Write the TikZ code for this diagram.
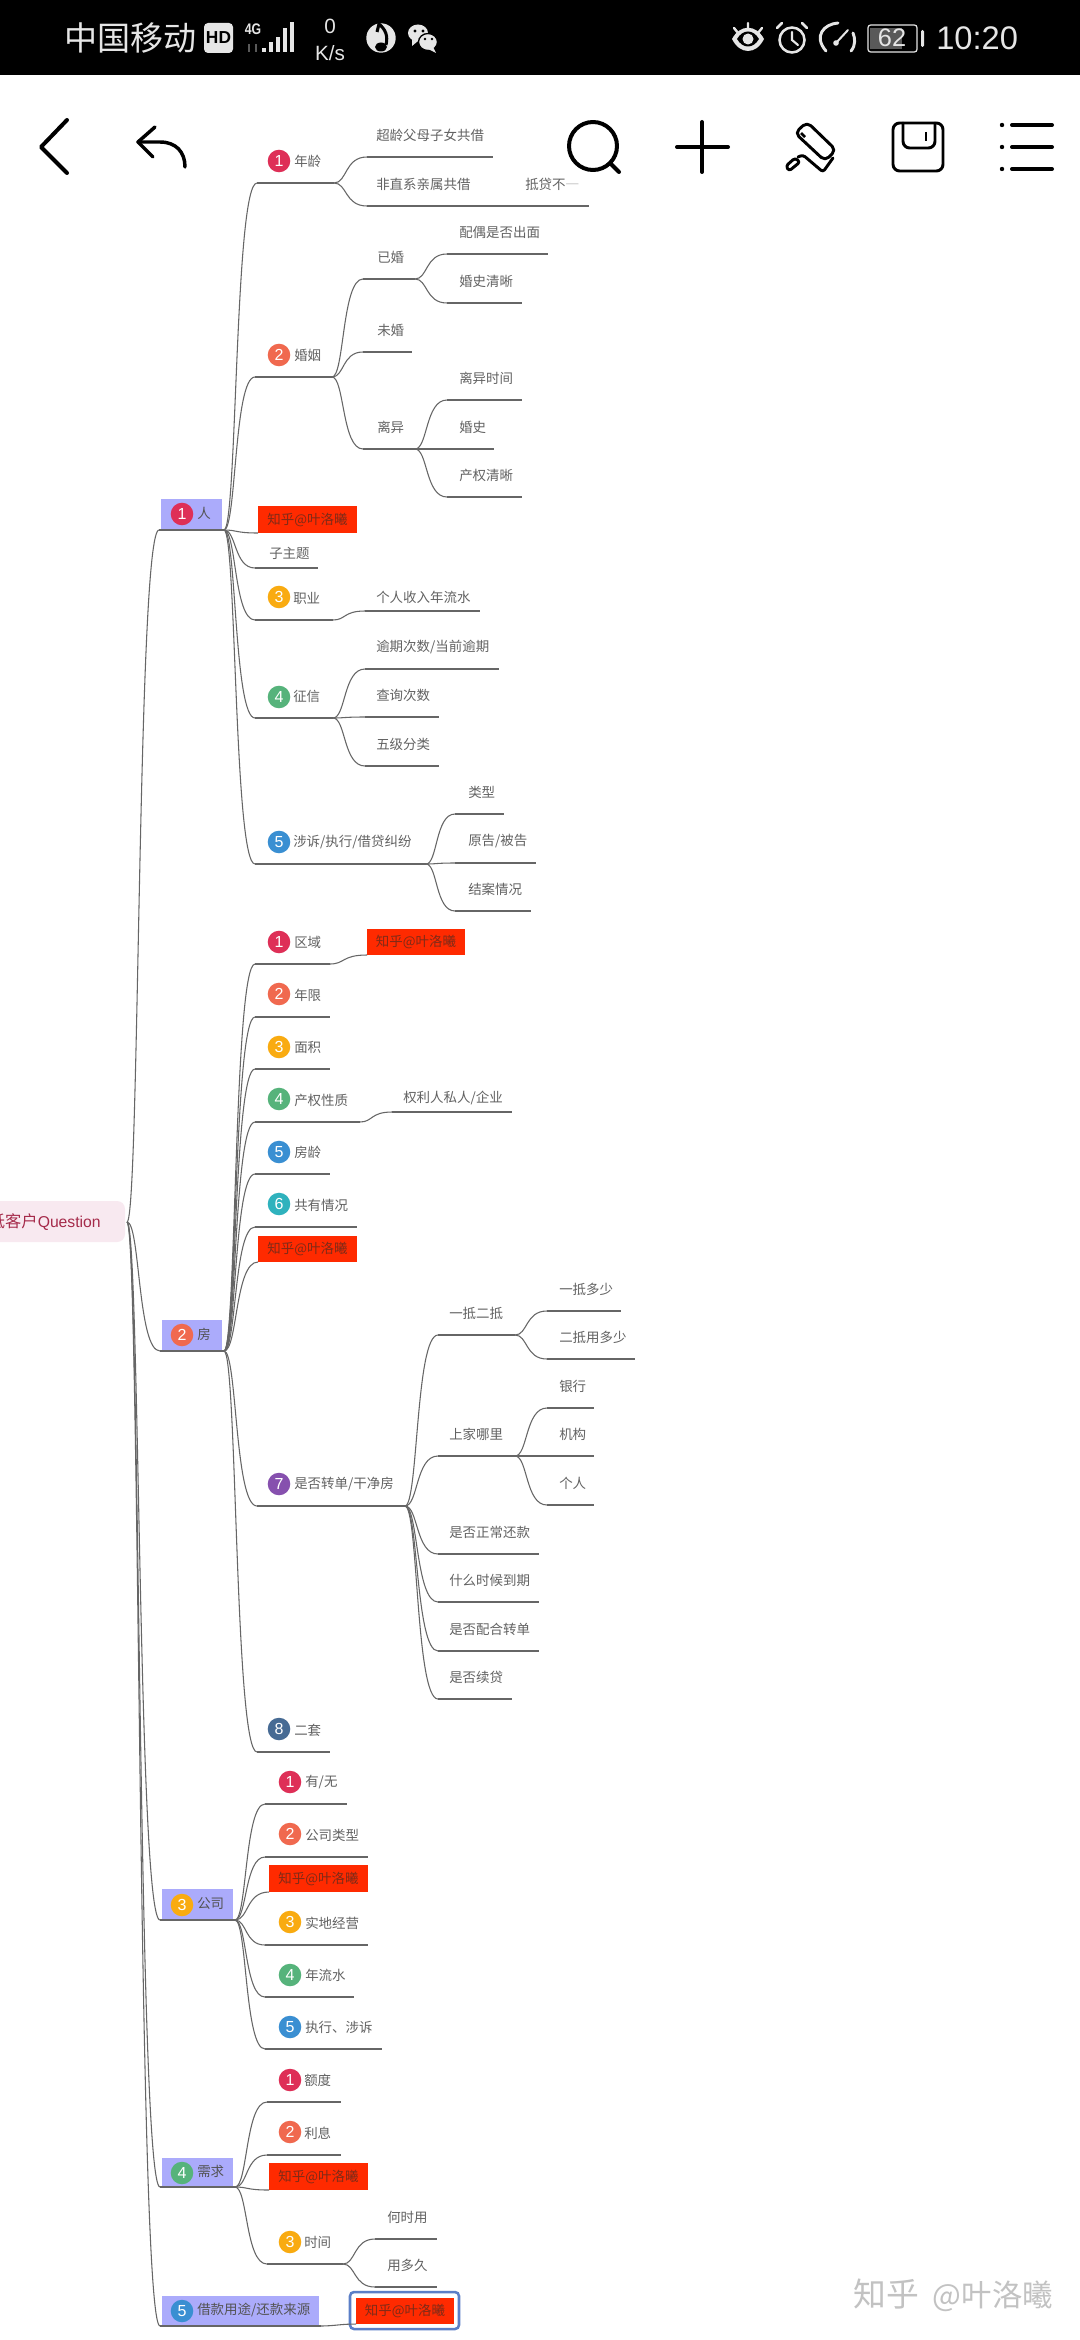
\documentclass[tikz,border=0pt]{standalone}
\usepackage{fontspec}
\usetikzlibrary{calc}
\setmainfont{Noto Sans CJK SC}
\newfontfamily\latinfont{Liberation Sans}
\definecolor{linecol}{HTML}{666666}
\definecolor{txtcol}{HTML}{626262}
\definecolor{boxcol}{HTML}{ABABFB}
\definecolor{redcol}{HTML}{FF2A00}
\definecolor{redtxt}{HTML}{7E2A18}
\definecolor{rootcol}{HTML}{F8E9F0}
\definecolor{roottxt}{HTML}{A52A4A}
\definecolor{ba}{HTML}{DE2F57}
\definecolor{bb}{HTML}{F0694F}
\definecolor{bc}{HTML}{F9AB11}
\definecolor{bd}{HTML}{56B37B}
\definecolor{be}{HTML}{3A8FD2}
\definecolor{bf}{HTML}{2FB2BD}
\definecolor{bg}{HTML}{8650AE}
\definecolor{bh}{HTML}{476B94}
\definecolor{stat}{HTML}{E6E6E6}
\tikzset{
  lbl/.style={anchor=west,inner sep=0pt,text=txtcol,font=\fontsize{10.1pt}{12pt}\selectfont},
  underline/.style={draw=linecol,line width=.85pt},
  branch/.style={draw=linecol,line width=.8pt},
  badgenode/.style={circle,inner sep=0pt,minimum size=16.9pt,text=white,font=\latinfont\fontsize{12pt}{14pt}\selectfont},
  redbox/.style={fill=redcol,draw=none,inner sep=0pt,text=redtxt,font=\fontsize{10.1pt}{12pt}\selectfont},
  tool/.style={draw=black,line width=3pt,line cap=round,line join=round},
  tooltwo/.style={draw=black,line width=2.2pt,line cap=round,line join=round},
  statline/.style={draw=stat,line width=1.8pt,line cap=round},
  stattxt/.style={text=stat,inner sep=0pt}
}
% name, x0, x1, line y, text x, text
\newcommand\topic[6]{%
  \coordinate (#1-l) at (#2,#4);
  \coordinate (#1-r) at (#3,#4);
  \draw[underline] (#1-l) -- (#1-r);
  \node[lbl] (#1) at ({#5},{#4-22}) {#6};
}
% name, x0, x1, line y, text x, text y, text
\newcommand\topicat[7]{%
  \coordinate (#1-l) at (#2,#4);
  \coordinate (#1-r) at (#3,#4);
  \draw[underline] (#1-l) -- (#1-r);
  \node[lbl] (#1) at (#5,#6) {#7};
}
% name, x, y, colour, digit
\newcommand\bdg[5]{\node[badgenode,fill=#4] (#1) at (#2,#3) {#5};}
% name, x0, x1, y0, y1, text x, text
\newcommand\maintopic[7]{%
  \path[fill=boxcol] (#2,#4) rectangle (#3,#5);
  \coordinate (#1-l) at ({#2-2},#5);
  \coordinate (#1-r) at ({#3+2},#5);
  \draw[underline] (#1-l) -- (#1-r);
  \node[lbl,text=txtcol!85!black] (#1) at ({#6},{(#4+#5)/2-1}) {#7};
}
% name, x0, x1, y0, y1
\newcommand\redtopic[5]{%
  \node[redbox,minimum width={(#3-#2)*.75pt},minimum height={(#5-#4)*.75pt}] (#1) at ({(#2+#3)/2},{(#4+#5)/2}) {知乎@叶洛曦};
  \coordinate (#1-l) at (#2,#5);
}
\newcommand\conn[2]{%
  \draw[branch] let \p1=(#1-r),\p2=(#2-l) in (\p1) .. controls ({\x1+.4*(\x2-\x1)},\y1) and ({\x1+.32*(\x2-\x1)},\y2) .. (\p2);
}
\begin{document}
\begin{tikzpicture}[x=.75pt,y=-.75pt]
\useasboundingbox (0,0) rectangle (1080,2340);
\fill[white] (0,0) rectangle (1080,2340);
% ---------- status bar
\fill[black] (0,0) rectangle (1080,75);
\node[stattxt,anchor=west,font=\fontsize{24.8pt}{28pt}\selectfont] (carrier) at (64,38) {中国移动};
\fill[stat,rounded corners=3pt] (204,23) rectangle (233,53);
\node[inner sep=0pt,text=black,font=\latinfont\bfseries\fontsize{13pt}{14pt}\selectfont] (hd) at (218.5,38) {HD};
\node[stattxt,font=\latinfont\bfseries\fontsize{11.5pt}{12pt}\selectfont,xscale=.8] (fourg) at (253,29) {4G};
\draw[draw=stat,line width=2.6pt] (264,52)--(264,48) (271,52)--(271,42) (278,52)--(278,37) (285,52)--(285,28) (292,52)--(292,22);
\draw[draw=gray!70!black,line width=1.6pt] (249,52)--(249,44) (256,52)--(256,44);
\node[stattxt,font=\latinfont\fontsize{15.5pt}{18pt}\selectfont] (speedzero) at (330,26) {0};
\node[stattxt,font=\latinfont\fontsize{15.5pt}{18pt}\selectfont] (speedunit) at (330,53) {K/s};
\fill[stat] (381,38) circle (14.7);
\fill[black] (381,47) ellipse (6 and 4.5);
\draw[black,line width=2.3pt] (386,45) .. controls (388,36) and (386,30) .. (379,24) -- (377,32);
\fill[stat] (418,33) ellipse (10 and 8.5);
\fill[stat] (412,40) -- (412,46) -- (418,41) -- cycle;
\draw[black,line width=1pt,fill=stat] (428,42) ellipse (9.5 and 8.5);
\fill[stat] (433,47) -- (436,53) -- (428,49) -- cycle;
\fill[black] (415,31) circle (1.6) (423,31) circle (1.6) (425,39) circle (1.3) (432,39) circle (1.3);
% right
\fill[stat] (732,39) .. controls (740,24) and (756,24) .. (764,39) .. controls (756,55) and (740,55) .. (732,39) -- cycle;
\fill[black] (737,39) .. controls (743,29) and (753,29) .. (759,39) .. controls (753,49) and (743,49) .. (737,39) -- cycle;
\fill[stat] (748,39) circle (5.5);
\draw[statline] (748,23)--(748,29) (734,28)--(738,33) (762,28)--(758,33);
\draw[statline,line width=1.9pt] (792,40) circle (12.5);
\draw[statline,line width=1.6pt] (792,32)--(792,40)--(798,45);
\draw[statline,line width=2pt] (777,28)--(782,23) (807,28)--(802,23);
\draw[statline,line width=2.2pt] (826,51) .. controls (813,36) and (824,24) .. (838,23);
\draw[statline,line width=2.2pt] (851,51) .. controls (856,45) and (855,38) .. (853,33);
\draw[statline,line width=1.5pt] (836,43)--(848,30);
\fill[stat] (836,43) circle (2.8);
\draw[stat,line width=.9pt,rounded corners=2pt] (868,25) rectangle (917,52);
\fill[gray!70!black] (870,28) rectangle (902,49);
\node[stattxt,font=\latinfont\fontsize{19pt}{20pt}\selectfont] (batt) at (892,38) {62};
\fill[stat,rounded corners=1pt] (921,30) rectangle (924,47);
\node[stattxt,anchor=west,font=\latinfont\fontsize{24.5pt}{28pt}\selectfont] (clock) at (936,38) {10:20};
% ---------- toolbar
\draw[tool] (67,120) -- (41,147) -- (67,173);
\draw[tool,line width=2.6pt] (155,127) -- (138,142) -- (153,157);
\draw[tool,line width=2.6pt] (138,142) -- (160,142) .. controls (176,142) and (185,152) .. (185,167);
\draw[tool] (593,146) circle (24);
\draw[tool] (610,163) -- (619,172);
\draw[tool] (677,147) -- (728,147) (702,122) -- (702,172);
\draw[tooltwo,rounded corners=4pt] (807,122) -- (836,150) -- (825,161) -- (795,133) -- cycle;
\draw[black,line width=2pt] (801,133) -- (805,137);
\draw[tooltwo,rounded corners=2pt] (833,158) -- (823,172) -- (803,155) -- (798,157);
\draw[tooltwo,rounded corners=2pt] (795,158) -- (786,166) -- (789,171) -- (800,162) -- cycle;
\draw[tooltwo,rounded corners=5pt] (893,123) rectangle (943,171);
\draw[tooltwo,rounded corners=5pt] (903,123) -- (903,148) -- (935,148) -- (935,123);
\draw[black,line width=2pt] (926,132) -- (926,141);
\draw[tool] (1012,125) -- (1052,125) (1012,147) -- (1052,147) (1012,169) -- (1052,169);
\fill[black] (1002,125) circle (2.2) (1002,147) circle (2.2) (1002,169) circle (2.2);
% ---------- root
\node[fill=rootcol,rounded corners=6pt,minimum width=145*.75pt,minimum height=41*.75pt,inner sep=0pt] (rootbg) at (52.5,1221.5) {};
\node[anchor=east,inner sep=0pt,text=roottxt,font=\fontsize{12.2pt}{14pt}\selectfont] (root) at (101,1222) {抵客户{\latinfont\fontsize{11.8pt}{14pt}\selectfont Question}};
\coordinate (root-r) at (127,1222);
% ---------- main topics
\maintopic{ren}{161}{222}{499}{530}{197}{人}
\bdg{renb}{182}{514}{ba}{1}
\maintopic{fang}{162}{222}{1320}{1351}{197}{房}
\bdg{fangb}{182}{1335}{bb}{2}
\maintopic{gongsi}{162}{233}{1889}{1920}{197}{公司}
\bdg{gongsib}{182}{1905}{bc}{3}
\maintopic{xuqiu}{162}{233}{2158}{2187}{197}{需求}
\bdg{xuqiub}{182}{2173}{bd}{4}
\maintopic{jiekuan}{162}{319}{2296}{2326}{197}{借款用途/还款来源}
\bdg{jiekuanb}{182}{2311}{be}{5}
% ---------- ren
\topic{nianling}{257}{334}{183}{294}{年龄}\bdg{nianlingb}{279}{161}{ba}{1}
\topic{chaoling}{367}{493}{157}{376}{超龄父母子女共借}
\topic{feizhixi}{367}{589}{206}{376}{非直系亲属共借}
\node[lbl] (didai) at (525,184) {抵贷不\textcolor{txtcol!30}{一}};
\topic{hunyin}{255}{332}{377}{294}{婚姻}\bdg{hunyinb}{279}{355}{bb}{2}
\topic{yihun}{363}{415}{279}{377}{已婚}
\topic{peiou}{447}{548}{254}{459}{配偶是否出面}
\topic{hunshiqx}{447}{522}{303}{459}{婚史清晰}
\topic{weihun}{363}{412}{352}{377}{未婚}
\topic{liyi}{363}{415}{449}{377}{离异}
\topic{liyitime}{447}{522}{400}{459}{离异时间}
\topic{hunshi}{447}{494}{449}{459}{婚史}
\topic{chanquanqx}{447}{522}{497}{459}{产权清晰}
\redtopic{reda}{258}{357}{506}{533}
\topicat{zizhuti}{255}{318}{568}{269}{553}{子主题}
\topic{zhiye}{255}{333}{620}{293}{职业}\bdg{zhiyeb}{279}{597}{bc}{3}
\topicat{shouru}{365}{480}{611}{376}{597}{个人收入年流水}
\topic{zhengxin}{255}{333}{718}{293}{征信}\bdg{zhengxinb}{279}{697}{bd}{4}
\topic{yuqi}{365}{499}{669}{376}{逾期次数/当前逾期}
\topic{chaxun}{365}{439}{717}{376}{查询次数}
\topic{wuji}{365}{439}{766}{376}{五级分类}
\topic{shesu}{255}{426}{864}{293}{涉诉/执行/借贷纠纷}\bdg{shesub}{279}{842}{be}{5}
\topic{leixing}{455}{504}{814}{468}{类型}
\topic{yuangao}{455}{536}{863}{468}{原告/被告}
\topic{jiean}{455}{531}{911}{468}{结案情况}
% ---------- fang
\topic{quyu}{255}{330}{964}{294}{区域}\bdg{quyub}{279}{942}{ba}{1}
\redtopic{redb}{367}{465}{929}{955}
\topic{nianxian}{255}{330}{1017}{294}{年限}\bdg{nianxianb}{279}{994}{bb}{2}
\topic{mianji}{255}{330}{1069}{294}{面积}\bdg{mianjib}{279}{1047}{bc}{3}
\topic{chanquan}{255}{360}{1122}{294}{产权性质}\bdg{chanquanb}{279}{1099}{bd}{4}
\topicat{quanli}{392}{512}{1112}{403}{1098}{权利人私人/企业}
\topic{fangling}{255}{330}{1174}{294}{房龄}\bdg{fanglingb}{279}{1152}{be}{5}
\topic{gongyou}{255}{357}{1227}{294}{共有情况}\bdg{gongyoub}{279}{1204}{bf}{6}
\redtopic{redc}{258}{357}{1236}{1262}
\topic{zhuandan}{257}{405}{1506}{294}{是否转单/干净房}\bdg{zhuandanb}{279}{1484}{bg}{7}
\topic{yidi}{438}{515}{1335}{449}{一抵二抵}
\topic{yididuo}{547}{621}{1311}{559}{一抵多少}
\topic{erdi}{547}{635}{1359}{559}{二抵用多少}
\topic{shangjia}{438}{515}{1456}{449}{上家哪里}
\topic{yinhang}{547}{594}{1408}{559}{银行}
\topic{jigou}{547}{594}{1456}{559}{机构}
\topic{geren}{547}{594}{1505}{559}{个人}
\topic{zhengchang}{438}{539}{1554}{449}{是否正常还款}
\topic{daoqi}{438}{539}{1602}{449}{什么时候到期}
\topic{peihe}{438}{539}{1651}{449}{是否配合转单}
\topic{xudai}{438}{512}{1699}{449}{是否续贷}
\topic{ertao}{257}{330}{1752}{294}{二套}\bdg{ertaob}{279}{1729}{bh}{8}
% ---------- gongsi
\topic{youwu}{265}{347}{1804}{305}{有/无}\bdg{youwub}{290}{1782}{ba}{1}
\topic{gslx}{265}{368}{1857}{305}{公司类型}\bdg{gslxb}{290}{1834}{bb}{2}
\redtopic{redd}{269}{368}{1865}{1892}
\topic{shidi}{265}{368}{1945}{305}{实地经营}\bdg{shidib}{290}{1922}{bc}{3}
\topic{liushui}{265}{354}{1997}{305}{年流水}\bdg{liushuib}{290}{1975}{bd}{4}
\topic{zhixing}{265}{382}{2049}{305}{执行、涉诉}\bdg{zhixingb}{290}{2027}{be}{5}
% ---------- xuqiu
\topic{edu}{267}{341}{2102}{304}{额度}\bdg{edub}{290}{2080}{ba}{1}
\topic{lixi}{267}{341}{2155}{304}{利息}\bdg{lixib}{290}{2132}{bb}{2}
\redtopic{rede}{269}{368}{2163}{2190}
\topic{shijian}{267}{343}{2264}{304}{时间}\bdg{shijianb}{290}{2242}{bc}{3}
\topic{heshi}{375}{437}{2239}{387}{何时用}
\topic{duojiu}{375}{437}{2287}{387}{用多久}
% ---------- jiekuan
\node[draw={rgb,255:red,91;green,127;blue,199},line width=1.9pt,rounded corners=3pt,minimum width=109*.75pt,minimum height=37*.75pt,inner sep=0pt] (selframe) at (404.5,2310.5) {};
\redtopic{redf}{356}{454}{2298}{2324}
% ---------- connectors
\conn{root}{ren}\conn{root}{fang}\conn{root}{gongsi}\conn{root}{xuqiu}\conn{root}{jiekuan}
\conn{ren}{nianling}\conn{ren}{hunyin}\conn{ren}{reda}\conn{ren}{zizhuti}\conn{ren}{zhiye}\conn{ren}{zhengxin}\conn{ren}{shesu}
\conn{nianling}{chaoling}\conn{nianling}{feizhixi}
\conn{hunyin}{yihun}\conn{hunyin}{weihun}\conn{hunyin}{liyi}
\conn{yihun}{peiou}\conn{yihun}{hunshiqx}
\conn{liyi}{liyitime}\conn{liyi}{hunshi}\conn{liyi}{chanquanqx}
\conn{zhiye}{shouru}
\conn{zhengxin}{yuqi}\conn{zhengxin}{chaxun}\conn{zhengxin}{wuji}
\conn{shesu}{leixing}\conn{shesu}{yuangao}\conn{shesu}{jiean}
\conn{fang}{quyu}\conn{fang}{nianxian}\conn{fang}{mianji}\conn{fang}{chanquan}\conn{fang}{fangling}\conn{fang}{gongyou}\conn{fang}{redc}\conn{fang}{zhuandan}\conn{fang}{ertao}
\conn{quyu}{redb}\conn{chanquan}{quanli}
\conn{zhuandan}{yidi}\conn{zhuandan}{shangjia}\conn{zhuandan}{zhengchang}\conn{zhuandan}{daoqi}\conn{zhuandan}{peihe}\conn{zhuandan}{xudai}
\conn{yidi}{yididuo}\conn{yidi}{erdi}
\conn{shangjia}{yinhang}\conn{shangjia}{jigou}\conn{shangjia}{geren}
\conn{gongsi}{youwu}\conn{gongsi}{gslx}\conn{gongsi}{redd}\conn{gongsi}{shidi}\conn{gongsi}{liushui}\conn{gongsi}{zhixing}
\conn{xuqiu}{edu}\conn{xuqiu}{lixi}\conn{xuqiu}{rede}\conn{xuqiu}{shijian}
\conn{shijian}{heshi}\conn{shijian}{duojiu}
\coordinate (jiekuan-rr) at (319,2326);
\draw[branch] (jiekuan-rr) .. controls (335,2326) and (340,2324) .. (redf-l);
% ---------- watermark
\node[anchor=west,inner sep=0pt,text=black!24,font=\fontsize{24.6pt}{28pt}\selectfont] (watermark) at (853,2295) {知乎\hspace{10.5pt}{\fontsize{22.8pt}{28pt}\selectfont @叶洛曦}};
\end{tikzpicture}
\end{document}
